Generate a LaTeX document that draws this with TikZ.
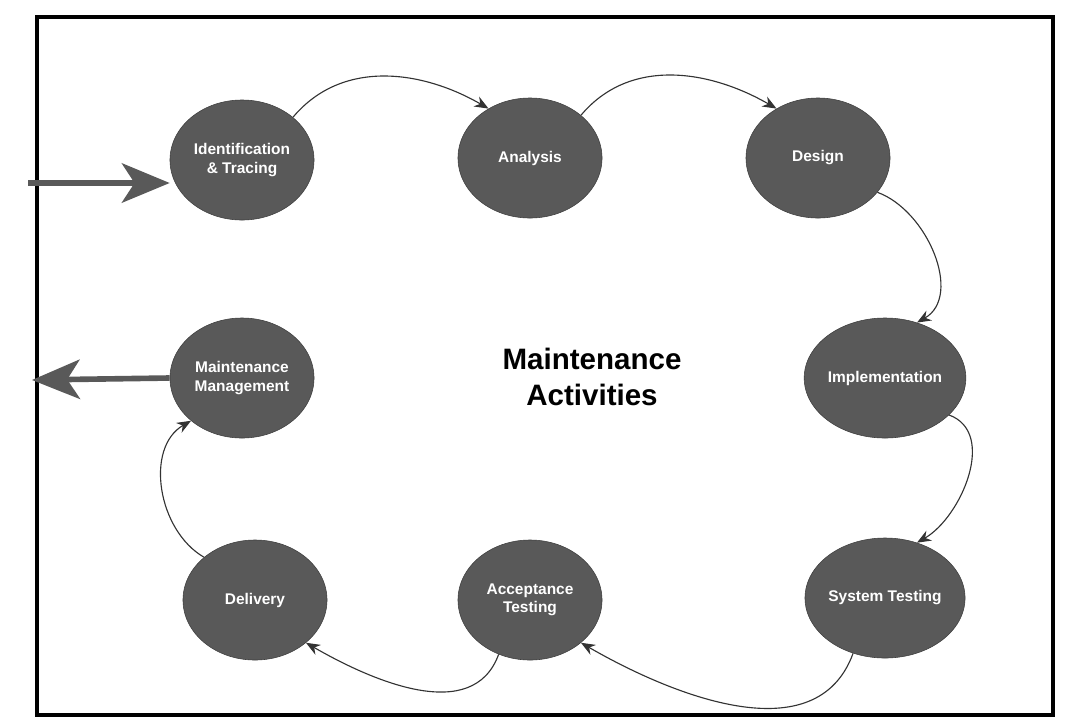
\documentclass[tikz,border=0pt]{standalone}
\usepackage{fontspec}
\setmainfont{Liberation Sans}
\usetikzlibrary{shapes.geometric,arrows.meta,positioning}
\definecolor{actgray}{HTML}{595959}
\tikzset{
  activity/.style={ellipse, fill=actgray, draw=actgray!70!black, minimum width=3.6cm, minimum height=3cm,
    text=white, font=\bfseries\fontsize{11}{13}\selectfont, align=center, inner sep=0pt},
  flow/.style={-{Stealth[length=10pt,width=8pt]}, thick, black!80},
  bigflow/.style={-{Stealth[length=34pt,width=28pt,inset=9pt]}, line width=4pt, actgray}
}
\begin{document}
\begin{tikzpicture}[x=0.025cm,y=-0.025cm]
\useasboundingbox (0,0) rectangle (1069,725);
\draw[line width=3pt] (37,17) rectangle (1053,715);

% activities
\node[activity] (ident) at (242,160) {Identification\\\& Tracing};
\node[activity] (anal) at (530,158) {Analysis};
\node[activity] (design) at (818,158) {Design};
\node[activity] (impl) at (885,378) {Implementation};
\node[activity] (systest) at (885,598) {System Testing};
\node[activity] (accept) at (530,600) {Acceptance\\Testing};
\node[activity] (deliv) at (255,600) {Delivery};
\node[activity] (mgmt) at (242,378) {Maintenance\\Management};
\node[font=\bfseries\fontsize{21}{25}\selectfont, align=center] (title) at (592,377) {Maintenance\\Activities};

% connectors
\draw[flow] (ident.40) to[out=50, in=150] (anal.130);
\draw[flow] (anal.40) to[out=50, in=150] (design.130);
\draw[flow] (design.-30) to[out=-20, in=30] (impl.60);
\draw[flow] (impl.-30) to[out=-20, in=30] (systest.60);
\draw[flow] (systest.-120) to[out=-110, in=-30] (accept.-40);
\draw[flow] (accept.-120) to[out=-110, in=-30] (deliv.-40);
\draw[flow] (deliv.140) to[out=150, in=-150] (mgmt.-140);

% entry and exit
\coordinate (entry) at (28,183);
\coordinate (exit) at (32,380);
\draw[bigflow] (entry) -- (ident.west |- entry);
\draw[bigflow] (mgmt.west) -- (exit);
\end{tikzpicture}
\end{document}
